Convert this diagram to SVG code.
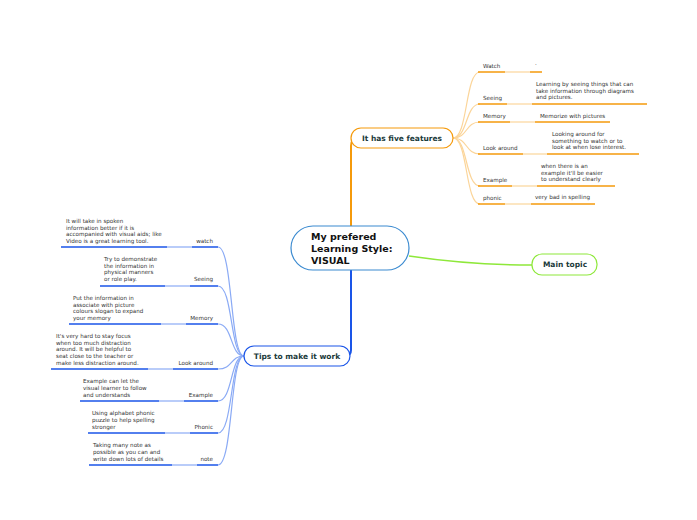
<svg xmlns="http://www.w3.org/2000/svg" width="697" height="520" viewBox="0 0 697 520">
<style>
text{font-family:"DejaVu Sans",Verdana,sans-serif;fill:#333;font-size:5.6px}
.t{font-weight:bold;fill:#1a3a3a;font-size:7.5px}
.c{font-weight:bold;fill:#111;font-size:9.5px}
.o{stroke:#f59a0b;stroke-width:1.5;fill:none}
.ol{stroke:#fbd59a;stroke-width:1.2;fill:none}
.b{stroke:#1a55e8;stroke-width:1.5;fill:none}
.bl{stroke:#8aaaf5;stroke-width:1.2;fill:none}
.r{text-anchor:end}
</style>
<rect width="697" height="520" fill="#fff"/>
<g id="connectors">
<path d="M351,226 V146 Q351,138 359,138" stroke="#f59a0b" stroke-width="2" fill="none"/>
<path d="M351,270 V350 Q351,356 345,356" stroke="#1a55e8" stroke-width="2" fill="none"/>
<path d="M409,256 Q470,265 532,265" stroke="#8ee83a" stroke-width="1.5" fill="none"/>
<g class="ol">
<path d="M453,138 C468,138 465,72 480,72"/>
<path d="M453,138 C468,138 465,104 480,104"/>
<path d="M453,138 C468,138 465,122 480,122"/>
<path d="M453,138 C468,138 465,154 480,154"/>
<path d="M453,138 C468,138 465,186 480,186"/>
<path d="M453,138 C468,138 465,204 480,204"/>
<path d="M505,72H530"/><path d="M507,104H532"/><path d="M510,122H535"/><path d="M523,154H547"/><path d="M512,186H537"/><path d="M505,204H531"/>
</g>
<g class="o">
<path d="M478,72H505"/><path d="M530,72H542"/>
<path d="M478,104H507"/><path d="M532,104H647"/>
<path d="M478,122H510"/><path d="M535,122H610"/>
<path d="M478,154H523"/><path d="M547,154H639"/>
<path d="M478,186H512"/><path d="M537,186H615"/>
<path d="M478,204H505"/><path d="M531,204H595"/>
</g>
<g class="bl">
<path d="M244,356 C230,356 233,247 218,247"/>
<path d="M244,356 C230,356 233,286 218,286"/>
<path d="M244,356 C230,356 233,324 218,324"/>
<path d="M244,356 C230,356 233,369 218,369"/>
<path d="M244,356 C230,356 233,401 218,401"/>
<path d="M244,356 C230,356 233,433 218,433"/>
<path d="M244,356 C230,356 233,465 218,465"/>
<path d="M167,247H192"/><path d="M165,286H190"/><path d="M161,324H186"/><path d="M148,369H173"/><path d="M159,401H184"/><path d="M165,433H190"/><path d="M172,465H197"/>
</g>
<g class="b">
<path d="M61,247H167"/><path d="M192,247H218"/>
<path d="M100,286H165"/><path d="M190,286H218"/>
<path d="M69,324H161"/><path d="M186,324H218"/>
<path d="M51,369H148"/><path d="M173,369H218"/>
<path d="M80,401H159"/><path d="M184,401H218"/>
<path d="M88,433H165"/><path d="M190,433H218"/>
<path d="M89,465H172"/><path d="M197,465H218"/>
</g>
</g>
<g id="central"><rect x="291" y="226" width="118" height="44" rx="22" fill="#fff" stroke="#3a8ad0" stroke-width="1.2"/>
<text class="c" x="311" y="240">My prefered</text><text class="c" x="311" y="252">Learning Style:</text><text class="c" x="311" y="264">VISUAL</text></g>
<g id="features"><rect x="351" y="128" width="102" height="20" rx="10" fill="#fff" stroke="#f59a0b" stroke-width="1.2"/><text class="t" x="402" y="141" text-anchor="middle">It has five features</text></g>
<g id="main"><rect x="532" y="254" width="65" height="21" rx="10" fill="#fff" stroke="#8ee83a" stroke-width="1.2"/><text class="t" x="565" y="267" text-anchor="middle">Main topic</text></g>
<g id="tips"><rect x="244" y="346" width="106" height="20" rx="10" fill="#fff" stroke="#1a55e8" stroke-width="1.2"/><text class="t" x="297" y="359" text-anchor="middle">Tips to make it work</text></g>
<g id="f-watch"><text x="483" y="68">Watch</text><text x="535" y="65">.</text></g>
<g id="f-seeing"><text x="483" y="100">Seeing</text><text x="536" y="86">Learning by seeing things that can</text><text x="536" y="93">take information through diagrams</text><text x="536" y="99">and pictures.</text></g>
<g id="f-memory"><text x="483" y="118">Memory</text><text x="540" y="118">Memorize with pictures</text></g>
<g id="f-look"><text x="483" y="150">Look around</text><text x="552" y="136">Looking around for</text><text x="552" y="143">something to watch or to</text><text x="552" y="149">look at when lose interest.</text></g>
<g id="f-example"><text x="483" y="182">Example</text><text x="541" y="168">when there is an</text><text x="541" y="175">example it'll be easier</text><text x="541" y="181">to understand clearly</text></g>
<g id="f-phonic"><text x="483" y="200">phonic</text><text x="535" y="199">very bad in spelling</text></g>
<g id="t-watch"><text class="r" x="213" y="243">watch</text><text x="66" y="223">It will take in spoken</text><text x="66" y="230">information better if it is</text><text x="66" y="236">accompanied with visual aids; like</text><text x="66" y="243">Video is a great learning tool.</text></g>
<g id="t-seeing"><text class="r" x="213" y="281">Seeing</text><text x="104" y="261">Try to demonstrate</text><text x="104" y="268">the information in</text><text x="104" y="274">physical manners</text><text x="104" y="281">or role play.</text></g>
<g id="t-memory"><text class="r" x="213" y="320">Memory</text><text x="73" y="300">Put the information in</text><text x="73" y="307">associate with picture</text><text x="73" y="313">colours slogan to expand</text><text x="73" y="320">your memory</text></g>
<g id="t-look"><text class="r" x="213" y="365">Look around</text><text x="56" y="338">It's very hard to stay focus</text><text x="56" y="345">when too much distraction</text><text x="56" y="351">around. It will be helpful to</text><text x="56" y="358">seat close to the teacher or</text><text x="56" y="365">make less distraction around.</text></g>
<g id="t-example"><text class="r" x="213" y="397">Example</text><text x="83" y="383">Example can let the</text><text x="83" y="390">visual learner to follow</text><text x="83" y="397">and understands</text></g>
<g id="t-phonic"><text class="r" x="213" y="429">Phonic</text><text x="92" y="415">Using alphabet phonic</text><text x="92" y="422">puzzle to help spelling</text><text x="92" y="429">stronger</text></g>
<g id="t-note"><text class="r" x="213" y="461">note</text><text x="93" y="447">Taking many note as</text><text x="93" y="454">possible as you can and</text><text x="93" y="461">write down lots of details</text></g>
</svg>
